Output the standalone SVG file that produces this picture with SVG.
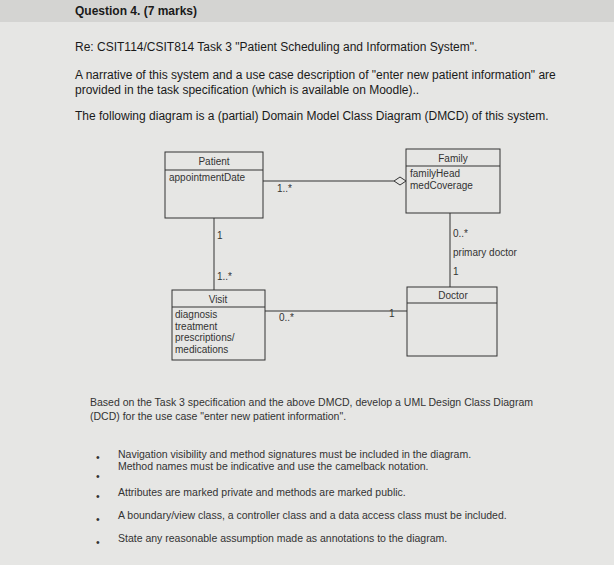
<svg xmlns="http://www.w3.org/2000/svg" width="614" height="565" viewBox="0 0 614 565">
<style>
.t{font-family:"Liberation Sans",Arial,sans-serif;fill:#1a1a1a}
.p{font-size:12px}
.s{font-size:10px;fill:#333}
.b{fill:none;stroke:#333;stroke-width:1}
.c{fill:none;stroke:#333;stroke-width:1}
.bl{font-size:10.5px;fill:#333}
</style>
<rect width="614" height="565" fill="#e6e6e4"/>
<rect x="0" y="0" width="614" height="22" fill="#d4d4d2"/>
<text class="t p" x="75" y="15" font-weight="bold">Question 4. (7 marks)</text>
<text class="t p" x="75" y="51">Re: CSIT114/CSIT814 Task 3 "Patient Scheduling and Information System".</text>
<text class="t p" x="75" y="79">A narrative of this system and a use case description of "enter new patient information" are</text>
<text class="t p" x="75" y="94">provided in the task specification (which is available on Moodle)..</text>
<text class="t p" x="75" y="120">The following diagram is a (partial) Domain Model Class Diagram (DMCD) of this system.</text>
<g id="connectors">
<line class="c" x1="263" y1="181" x2="394" y2="181"/>
<polygon points="394,181 400,177 406,181 400,185" fill="#e6e6e4" stroke="#333"/>
<line class="c" x1="214" y1="218" x2="214" y2="290"/>
<line class="c" x1="450" y1="213" x2="450" y2="287"/>
<line class="c" x1="265" y1="311" x2="407" y2="311"/>
<text class="t s" x="277" y="192">1..*</text>
<text class="t s" x="217" y="239">1</text>
<text class="t s" x="217" y="280">1..*</text>
<text class="t s" x="453" y="237">0..*</text>
<text class="t s" x="453" y="256">primary doctor</text>
<text class="t s" x="453" y="275">1</text>
<text class="t s" x="279" y="321">0..*</text>
<text class="t s" x="389" y="317">1</text>
</g>
<g id="patient">
<rect class="b" x="165" y="152" width="98" height="66" fill="#efefed"/>
<line class="c" x1="165" y1="170" x2="263" y2="170"/>
<text class="t s" x="214" y="165" text-anchor="middle">Patient</text>
<text class="t s" x="169" y="181">appointmentDate</text>
</g>
<g id="family">
<rect class="b" x="406" y="149" width="94" height="64" fill="#efefed"/>
<line class="c" x1="406" y1="166" x2="500" y2="166"/>
<text class="t s" x="453" y="162" text-anchor="middle">Family</text>
<text class="t s" x="410" y="177">familyHead</text>
<text class="t s" x="410" y="189">medCoverage</text>
</g>
<g id="visit">
<rect class="b" x="172" y="290" width="93" height="70" fill="#efefed"/>
<line class="c" x1="172" y1="307" x2="265" y2="307"/>
<text class="t s" x="218" y="303" text-anchor="middle">Visit</text>
<text class="t s" x="175" y="318">diagnosis</text>
<text class="t s" x="175" y="330">treatment</text>
<text class="t s" x="175" y="341">prescriptions/</text>
<text class="t s" x="175" y="353">medications</text>
</g>
<g id="doctor">
<rect class="b" x="407" y="287" width="90" height="69" fill="#efefed"/>
<line class="c" x1="407" y1="303" x2="497" y2="303"/>
<text class="t s" x="453" y="299" text-anchor="middle">Doctor</text>
</g>
<text class="t bl" x="90" y="406">Based on the Task 3 specification and the above DMCD, develop a UML Design Class Diagram</text>
<text class="t bl" x="90" y="420">(DCD) for the use case "enter new patient information".</text>
<g class="t bl">
<text x="96" y="461">•</text><text x="118" y="458">Navigation visibility and method signatures must be included in the diagram.</text>
<text x="96" y="480">•</text><text x="118" y="470">Method names must be indicative and use the camelback notation.</text>
<text x="96" y="500">•</text><text x="118" y="496">Attributes are marked private and methods are marked public.</text>
<text x="96" y="523">•</text><text x="118" y="519">A boundary/view class, a controller class and a data access class must be included.</text>
<text x="96" y="546">•</text><text x="118" y="542">State any reasonable assumption made as annotations to the diagram.</text>
</g>
</svg>
